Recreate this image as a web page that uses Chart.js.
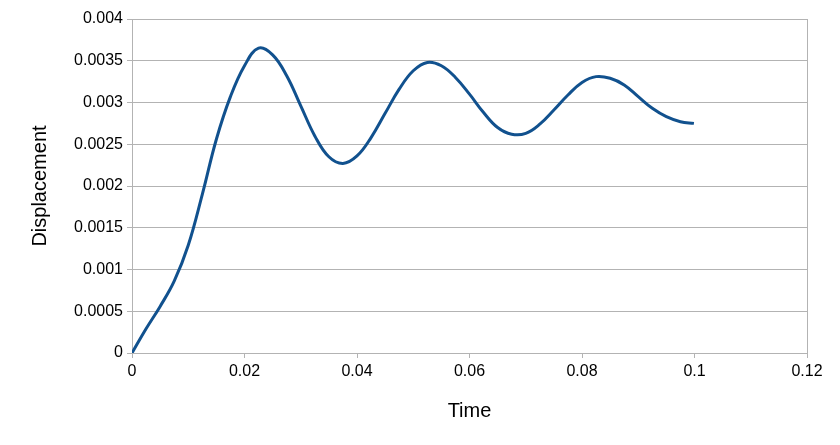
<!DOCTYPE html>
<html>
<head>
<meta charset="utf-8">
<script src="https://cdn.jsdelivr.net/npm/chart.js@4/dist/chart.umd.min.js"></script>
<style>
  html, body { margin: 0; padding: 0; background: #fff; }
  #wrap { width: 840px; height: 445px; }
</style>
</head>
<body>
<div id="wrap"><canvas id="grafico"></canvas></div>
<script>
// dados
const tempo = [0, 0.0025, 0.005, 0.0075, 0.01, 0.0125, 0.015, 0.0175, 0.02, 0.0225,
  0.025, 0.0275, 0.03, 0.0325, 0.035, 0.0375, 0.04, 0.0425, 0.045, 0.0475,
  0.05, 0.0525, 0.055, 0.0575, 0.06, 0.0625, 0.065, 0.0675, 0.07, 0.0725,
  0.075, 0.0775, 0.08, 0.0825, 0.085, 0.0875, 0.09, 0.0925, 0.095, 0.0975, 0.0999];
const deslocamento = [0, 0.00029, 0.000558, 0.00086, 0.00129, 0.0019, 0.00256, 0.00307, 0.00344, 0.00365,
  0.00357, 0.00332, 0.00296, 0.0026, 0.00235, 0.00227, 0.00236, 0.00258, 0.00287, 0.00316,
  0.00338, 0.00348, 0.00344, 0.0033, 0.0031, 0.00288, 0.0027, 0.00262, 0.00263, 0.00274,
  0.00291, 0.00309, 0.00324, 0.00331, 0.00329, 0.00321, 0.00307, 0.00293, 0.00283, 0.00277, 0.00275];

const xTicks = [0, 0.02, 0.04, 0.06, 0.08, 0.1, 0.12];
const yTicks = [0, 0.0005, 0.001, 0.0015, 0.002, 0.0025, 0.003, 0.0035, 0.004];

const corGrade = "#b3b3b3";
const fonte = "'Liberation Sans', Arial, sans-serif";

// borda direita da área do gráfico
const bordaDireita = {
  id: "bordaDireita",
  afterDraw(chart) {
    const { ctx, chartArea } = chart;
    ctx.save();
    ctx.strokeStyle = corGrade;
    ctx.lineWidth = 1;
    ctx.beginPath();
    ctx.moveTo(Math.round(chartArea.right) + 0.5, chartArea.top);
    ctx.lineTo(Math.round(chartArea.right) + 0.5, chartArea.bottom);
    ctx.stroke();
    ctx.restore();
  }
};

new Chart(document.getElementById("grafico"), {
  type: "line",
  data: {
    datasets: [{
      label: "Displacement",
      data: tempo.map((t, i) => ({ x: t, y: deslocamento[i] })),
      borderColor: "#11518e",
      borderWidth: 3,
      pointRadius: 0,
      fill: false,
      tension: 0.4
    }]
  },
  options: {
    responsive: true,
    maintainAspectRatio: false,
    animation: false,
    layout: { padding: { top: 19, right: 33, bottom: 0, left: 0 } },
    plugins: { legend: { display: false }, tooltip: { enabled: false } },
    scales: {
      x: {
        type: "linear",
        min: 0,
        max: 0.12,
        afterBuildTicks: s => { s.ticks = xTicks.map(v => ({ value: v })); },
        afterFit: s => { s.height = 92; },
        grid: { drawOnChartArea: false, color: corGrade, tickLength: 5 },
        border: { color: corGrade },
        ticks: {
          color: "#000",
          padding: 4,
          maxRotation: 0,
          font: { family: fonte, size: 16 },
          callback: v => String(v)
        },
        title: {
          display: true,
          text: "Time",
          color: "#000",
          font: { family: fonte, size: 20 },
          padding: { top: 0, bottom: 22 }
        }
      },
      y: {
        min: 0,
        max: 0.004,
        afterBuildTicks: s => { s.ticks = yTicks.map(v => ({ value: v })); },
        afterFit: s => { s.width = 132; },
        grid: { color: corGrade, tickLength: 5 },
        border: { color: corGrade },
        ticks: {
          color: "#000",
          padding: 4,
          font: { family: fonte, size: 16 },
          callback: v => String(v)
        },
        title: {
          display: true,
          text: "Displacement",
          color: "#000",
          font: { family: fonte, size: 20 },
          padding: { top: 28, bottom: 0 }
        }
      }
    }
  },
  plugins: [bordaDireita]
});
</script>
</body>
</html>
